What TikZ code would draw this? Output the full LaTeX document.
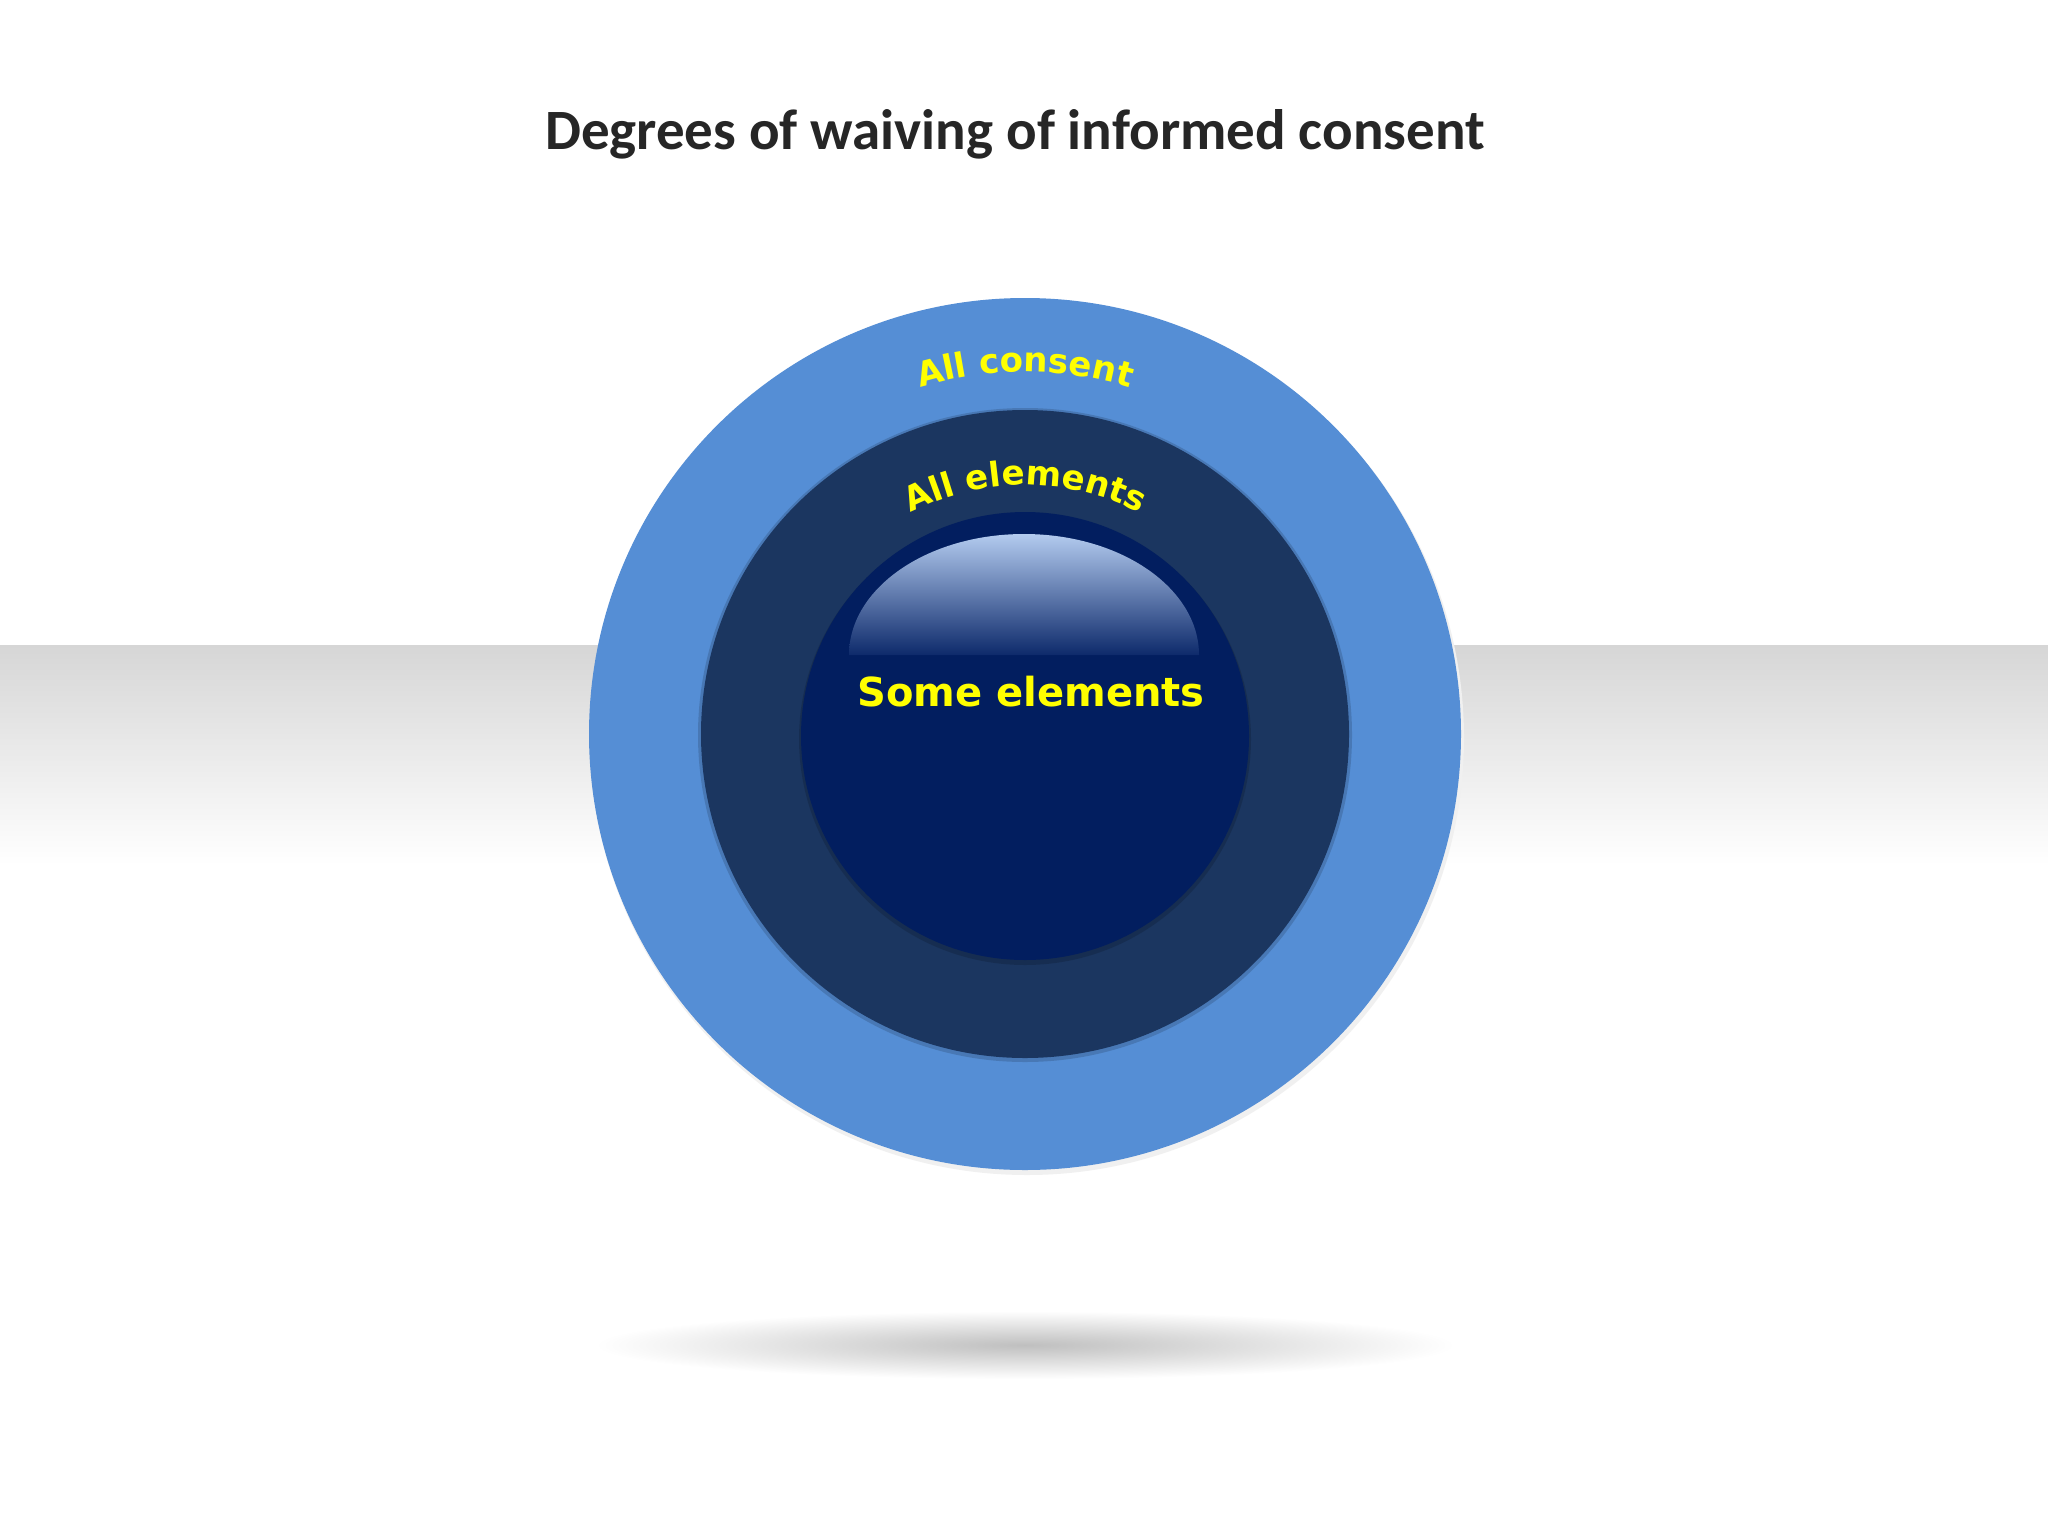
\documentclass[tikz,border=0pt]{standalone}
\usepackage{fontspec}
\newfontfamily\titlefont{Carlito}
\newfontfamily\verd{DejaVu Sans}
\usetikzlibrary{decorations.text,shadows,fadings}
\definecolor{outerblue}{HTML}{558ED5}
\definecolor{midnavy}{HTML}{1B3660}
\definecolor{innernavy}{HTML}{021E5F}
\definecolor{domelight}{HTML}{B3CBEF}
\definecolor{domemid}{HTML}{4E6DAE}
\definecolor{titlegray}{HTML}{262626}
\definecolor{bandgray}{HTML}{D6D6D6}
\definecolor{labelyellow}{HTML}{FFFF00}
\tikzset{
  ringlabel/.style={decorate, decoration={text along path, text align=center, text={|\verd\bfseries\fontsize{17}{20}\selectfont\color{labelyellow}|#1}}}
}
\begin{document}
\begin{tikzpicture}[x=0.5pt,y=-0.5pt]
\useasboundingbox (0,0) rectangle (2048,1536);
\fill[white] (0,0) rectangle (2048,1536);
% grey band
\shade[top color=bandgray, bottom color=white] (0,645) rectangle (2048,865);
% floor shadow
\shade[inner color=black!25, outer color=white] (1025,1345) ellipse [x radius=430, y radius=34];
\coordinate (c) at (1025,734);
% outer circle
\fill[black!6] (1027,738) circle [radius=437];
\node[circle, fill=outerblue, minimum size=436pt, inner sep=0pt] (outer) at (c) {};
% middle circle
\fill[black, opacity=0.15] (1025,735) circle [radius=327];
\node[circle, fill=midnavy, minimum size=324pt, inner sep=0pt] (middle) at (c) {};
% inner circle
\fill[black, opacity=0.15] (1025,739) circle [radius=226];
\node[circle, fill=innernavy, minimum size=224pt, inner sep=0pt] (inner) at (1025,736) {};
% dome highlight
\shade[top color=domelight, middle color=domemid, bottom color=innernavy!85!domemid]
  (849,655) arc [start angle=180, end angle=360, x radius=175, y radius=121] -- cycle;
% labels
\path[ringlabel={All consent}] (1025,734) ++(200:362) arc [start angle=200, end angle=340, radius=362];
\path[ringlabel={All elements}] (1025,734) ++(200:249) arc [start angle=200, end angle=340, radius=249];
\node[font=\verd\bfseries\fontsize{20}{24}\selectfont, text=labelyellow] (some) at (1031,692) {Some elements};
% title
\node[font=\titlefont\bfseries\fontsize{28.5}{32}\selectfont, text=titlegray] (title) at (1015,134) {Degrees of waiving of informed consent};
\end{tikzpicture}
\end{document}
